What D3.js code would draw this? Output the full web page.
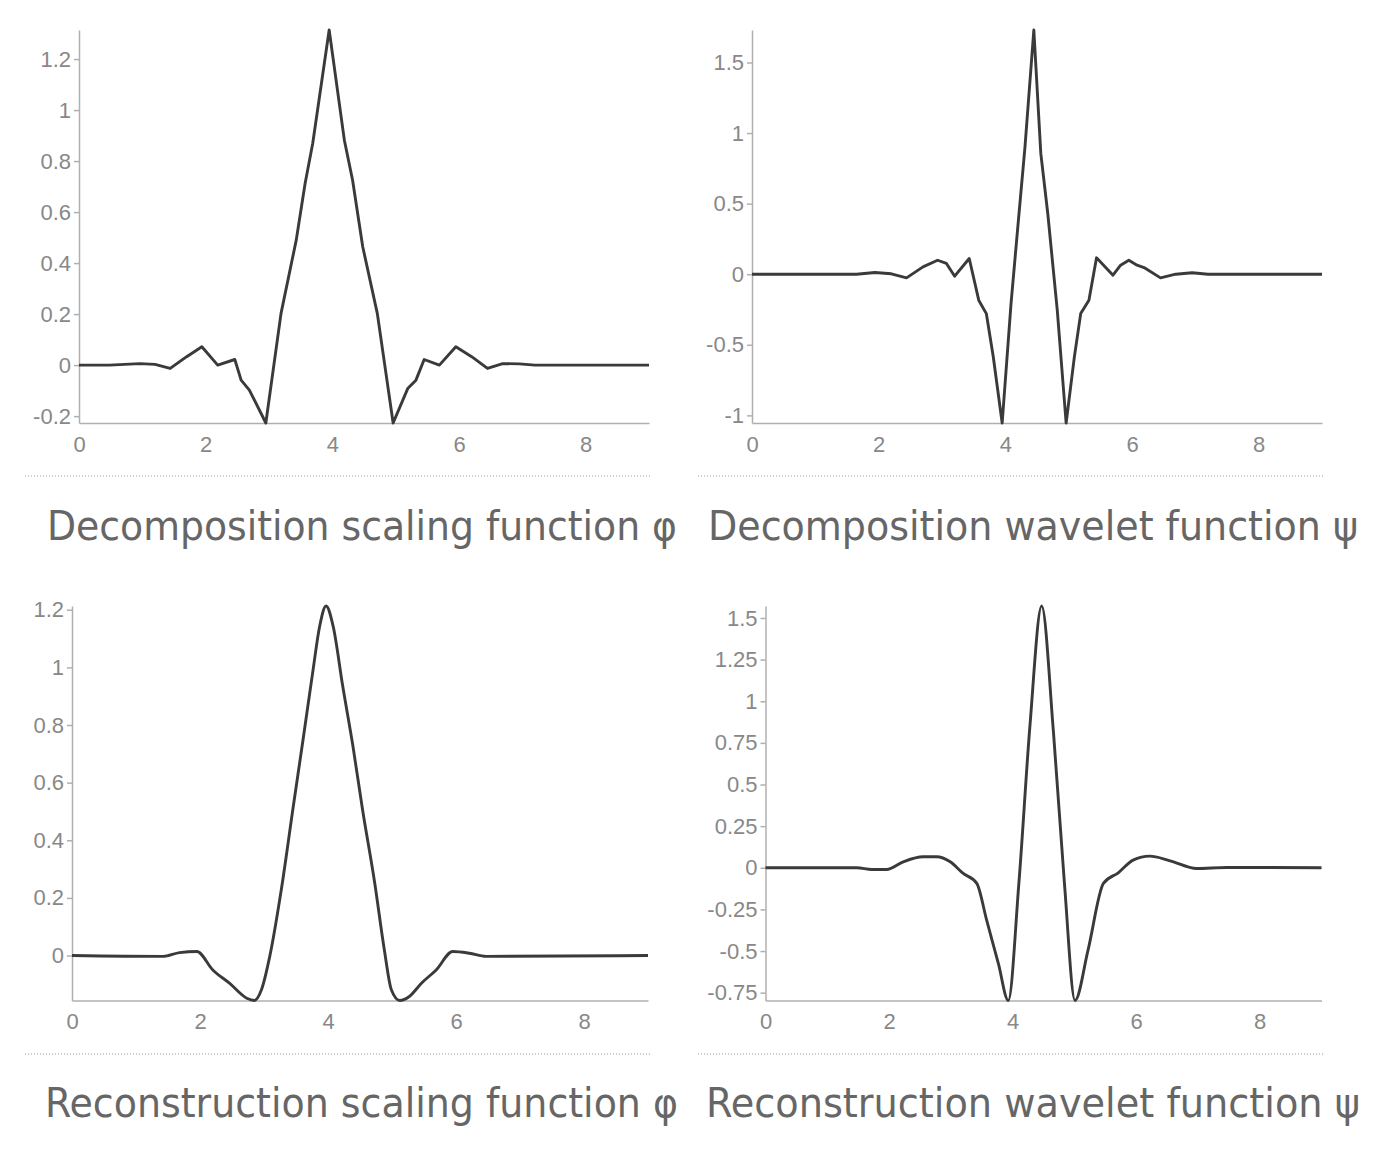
<!DOCTYPE html>
<html>
<head>
<meta charset="utf-8">
<script src="https://cdn.jsdelivr.net/npm/d3@7/dist/d3.min.js"></script>
<style>
body { margin: 0; background: #fff; }
</style>
</head>
<body>
<div id="chart"></div>
<script>
// values
let decPhiX = [0, 0.48, 0.96, 1.2, 1.44, 1.7, 1.94, 2.19, 2.46, 2.56, 2.69, 2.95, 3.19, 3.43, 3.57, 3.69, 3.95,
    4.19, 4.32, 4.48, 4.71, 4.96, 5.19, 5.32, 5.45, 5.69, 5.95, 6.2, 6.45, 6.69, 6.95, 7.2, 9]
let decPhiY = [0, 0, 0.006, 0.003, -0.013, 0.033, 0.072, 0, 0.022, -0.059, -0.098, -0.227, 0.203, 0.49, 0.712, 0.869, 1.314,
    0.882, 0.725, 0.464, 0.203, -0.227, -0.092, -0.059, 0.022, 0, 0.072, 0.033, -0.013, 0.006, 0.005, 0, 0]

let decPsiX = [0, 1.65, 1.94, 2.2, 2.44, 2.7, 2.93, 3.07, 3.2, 3.43, 3.58, 3.7, 3.81, 3.95, 4.09, 4.2, 4.31, 4.45,
    4.56, 4.67, 4.82, 4.96, 5.09, 5.19, 5.32, 5.44, 5.7, 5.82, 5.95, 6.08, 6.19, 6.45, 6.69, 6.95, 7.2, 9]
let decPsiY = [0, 0, 0.012, 0.003, -0.026, 0.052, 0.099, 0.076, -0.014, 0.111, -0.184, -0.279, -0.586, -1.054, -0.208, 0.35, 0.9, 1.73,
    0.856, 0.43, -0.255, -1.054, -0.586, -0.279, -0.184, 0.116, -0.007, 0.064, 0.099, 0.064, 0.047, -0.026, 0, 0.01, 0, 0]

let recPhiX = [0, 1.42, 1.68, 1.95, 2.2, 2.46, 2.73, 2.85, 2.96, 3.09, 3.27, 3.45, 3.61, 3.76, 3.87, 3.97,
    4.08, 4.23, 4.39, 4.54, 4.73, 4.88, 4.99, 5.12, 5.27, 5.46, 5.69, 5.95, 6.21, 6.47, 9]
let recPhiY = [0, -0.003, 0.01, 0.014, -0.05, -0.096, -0.148, -0.156, -0.119, -0.003, 0.228, 0.506, 0.749, 0.981, 1.143, 1.213,
    1.143, 0.935, 0.726, 0.506, 0.252, 0.02, -0.119, -0.156, -0.142, -0.096, -0.05, 0.014, 0.008, -0.003, 0]

let recPsiX = [0, 1.48, 1.72, 1.96, 2.23, 2.55, 2.77, 2.99, 3.2, 3.42, 3.58, 3.77, 3.93, 4.1, 4.28, 4.47,
    4.66, 4.84, 5.01, 5.22, 5.47, 5.71, 5.95, 6.22, 6.55, 6.98, 7.46, 9]
let recPsiY = [0, 0, -0.01, -0.01, 0.036, 0.066, 0.066, 0.036, -0.034, -0.094, -0.315, -0.576, -0.797, -0.1, 0.85, 1.572,
    0.82, -0.1, -0.797, -0.496, -0.094, -0.03, 0.046, 0.07, 0.042, -0.004, 0.002, 0]

let xTicks = [0, 2, 4, 6, 8]
let decPhiTicks = [-0.2, 0, 0.2, 0.4, 0.6, 0.8, 1, 1.2]
let decPsiTicks = [-1, -0.5, 0, 0.5, 1, 1.5]
let recPhiTicks = [0, 0.2, 0.4, 0.6, 0.8, 1, 1.2]
let recPsiTicks = [-0.75, -0.5, -0.25, 0, 0.25, 0.5, 0.75, 1, 1.25, 1.5]

let titles = [
    'Decomposition scaling function φ',
    'Decomposition wavelet function ψ',
    'Reconstruction scaling function φ',
    'Reconstruction wavelet function ψ'
]

let panels = [
    { xs: decPhiX, ys: decPhiY, ticks: decPhiTicks, title: titles[0], smooth: false,
        left: 79, right: 649, top: 30, bottom: 423, sepX: [25, 652], sepY: 476, titleX: [47, 677], titleY: 540 },
    { xs: decPsiX, ys: decPsiY, ticks: decPsiTicks, title: titles[1], smooth: false,
        left: 752, right: 1322, top: 30, bottom: 423, sepX: [698, 1325], sepY: 476, titleX: [708, 1358], titleY: 540 },
    { xs: recPhiX, ys: recPhiY, ticks: recPhiTicks, title: titles[2], smooth: true,
        left: 72, right: 648, top: 606, bottom: 1000.5, sepX: [25, 652], sepY: 1054, titleX: [45, 678], titleY: 1117 },
    { xs: recPsiX, ys: recPsiY, ticks: recPsiTicks, title: titles[3], smooth: true,
        left: 765.5, right: 1321.5, top: 606, bottom: 1000.5, sepX: [698, 1325], sepY: 1054, titleX: [706, 1360], titleY: 1117 }
]

let svg = d3.select('#chart').append('svg')
    .attr('width', 1400)
    .attr('height', 1151)

function draw(p) {
    let data = p.xs.map((x, i) => ({ x, y: p.ys[i] }))

    let x = d3.scaleLinear()
        .domain([0, 9])
        .range([p.left, p.right])
    let y = d3.scaleLinear()
        .domain(d3.extent(data, d => d.y))
        .range([p.bottom, p.top])

    let g = svg.append('g')

    let xAxis = g.append('g')
        .attr('transform', `translate(0,${p.bottom})`)
        .call(d3.axisBottom(x)
            .tickValues(xTicks)
            .tickSizeInner(0)
            .tickSizeOuter(0)
            .tickPadding(13)
            .tickFormat(d => String(d)))
    let yAxis = g.append('g')
        .attr('transform', `translate(${p.left},0)`)
        .call(d3.axisLeft(y)
            .tickValues(p.ticks)
            .tickSizeInner(5)
            .tickSizeOuter(0)
            .tickPadding(3)
            .tickFormat(d => String(d)))

    for (let axis of [xAxis, yAxis]) {
        axis.selectAll('path, line')
            .attr('stroke', '#b0b0b0')
            .attr('stroke-width', 1.5)
        axis.selectAll('text')
            .attr('fill', '#888')
            .attr('font-family', 'Liberation Sans, Arial, sans-serif')
            .attr('font-size', 22)
    }

    let line = d3.line()
        .x(d => x(d.x))
        .y(d => y(d.y))
        .curve(p.smooth ? d3.curveMonotoneX : d3.curveLinear)

    g.append('path')
        .datum(data)
        .attr('d', line)
        .attr('fill', 'none')
        .attr('stroke', '#3a3a3a')
        .attr('stroke-width', 2.9)
        .attr('stroke-linejoin', 'round')

    g.append('line')
        .attr('x1', p.sepX[0])
        .attr('x2', p.sepX[1])
        .attr('y1', p.sepY)
        .attr('y2', p.sepY)
        .attr('stroke', '#999')
        .attr('stroke-width', 1)
        .attr('stroke-dasharray', '1,2')

    g.append('text')
        .attr('x', p.titleX[0])
        .attr('y', p.titleY)
        .attr('textLength', p.titleX[1] - p.titleX[0])
        .attr('lengthAdjust', 'spacingAndGlyphs')
        .attr('font-family', 'DejaVu Sans Condensed, DejaVu Sans, sans-serif')
        .attr('font-size', 41)
        .attr('fill', '#666')
        .text(p.title)
}

panels.forEach(draw)
</script>
</body>
</html>
